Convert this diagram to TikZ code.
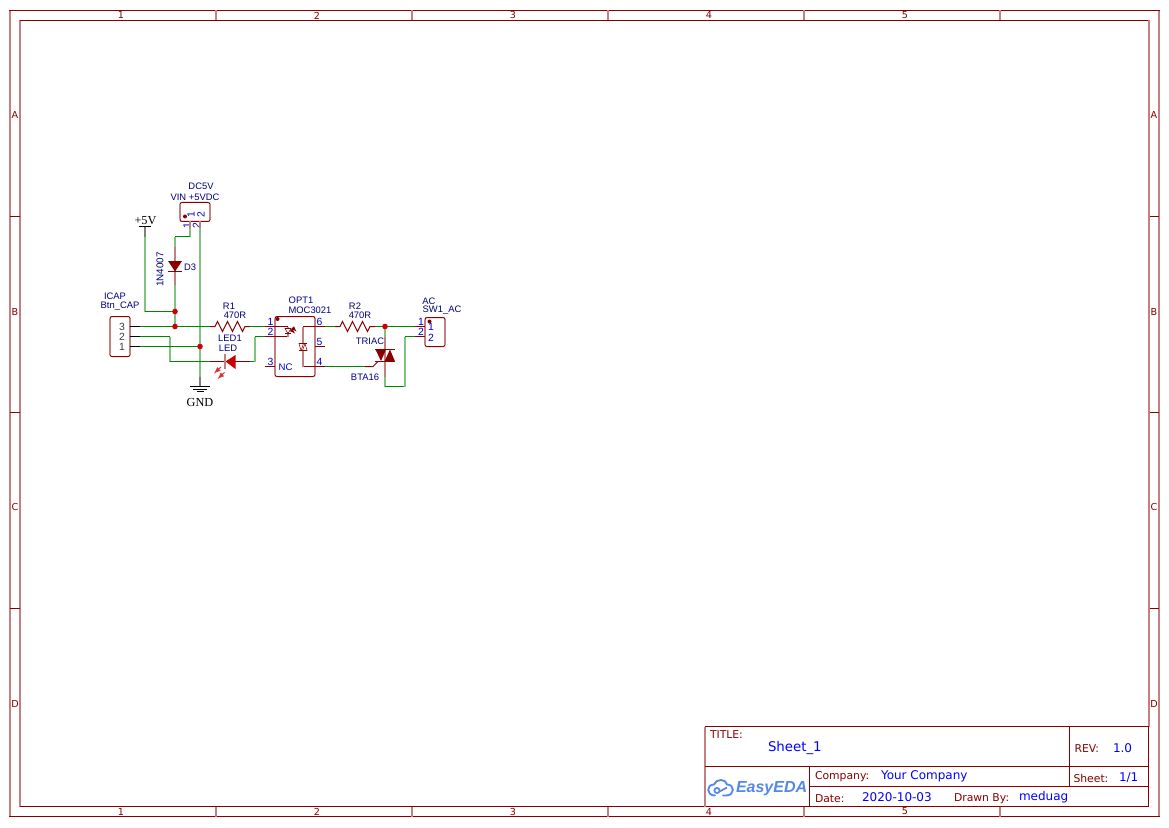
\documentclass[tikz,border=0pt]{standalone}
\usepackage{fontspec}
\setmainfont{DejaVu Sans}
\newfontfamily\lab{Liberation Sans}
\newfontfamily\ser{Liberation Serif}
\definecolor{fr}{HTML}{880000}
\definecolor{wg}{HTML}{008800}
\definecolor{jn}{HTML}{CC0000}
\definecolor{nv}{HTML}{000080}
\definecolor{bl}{HTML}{0000FF}
\definecolor{lg}{HTML}{5588EE}
\tikzset{
 x=0.75pt,y=-0.75pt,
 every node/.style={inner sep=0pt,outer sep=0pt},
 frameline/.style={draw=fr,line width=0.75pt},
 vframe/.style={draw=fr!50!white,line width=1.5pt},
 sym/.style={draw=fr,line width=0.75pt},
 vsym/.style={draw=fr!50!white,line width=1.5pt},
 fine/.style={draw=fr,line width=0.4pt},
 wire/.style={draw=wg,line width=0.75pt},
 vwire/.style={draw=wg!50!white,line width=1.5pt},
 pinline/.style={draw=fr,line width=0.75pt},
 blk/.style={draw=black,line width=0.75pt},
 vblk/.style={draw=black!50!white,line width=1.5pt},
 part/.style={draw=fr,line width=0.75pt,rounded corners=1.5pt},
 fl/.style={text=fr,font=\fontsize{7.2pt}{8pt}\selectfont},
 tk/.style={text=fr,anchor=west,font=\fontsize{8.1pt}{10pt}\selectfont},
 tv/.style={text=bl,anchor=west,font=\fontsize{9pt}{10pt}\selectfont},
 lb/.style={text=nv,font=\lab\fontsize{7.05pt}{8pt}\selectfont},
 pn/.style={text=bl!60!nv,font=\lab\fontsize{7.8pt}{9pt}\selectfont},
 dot/.style={circle,fill=jn,minimum size=4.2pt},
 sdot/.style={circle,fill=fr,minimum size=3pt},
 pw/.style={text=black,font=\ser\fontsize{9.2pt}{10pt}\selectfont},
}
\begin{document}
\begin{tikzpicture}
\useasboundingbox (0,0) rectangle (1169,827);
\fill[white] (0,0) rectangle (1169,827);
\begin{scope}[shift={(0,0.5)}]
% sheet frame
\draw[vframe] (10,10)--(10,816);
\draw[vframe] (1159,10)--(1159,816);
\draw[vframe] (20,20)--(20,806);
\draw[frameline] (9,10)--(1160,10);
\draw[frameline] (9,816)--(1160,816);
\draw[frameline] (20,20)--(1149,20);
\draw[frameline] (20,806)--(1149,806);
\foreach \v in {216,412,608,804,1000}{
 \draw[vframe] (\v,10)--(\v,20);
 \draw[vframe] (\v,806)--(\v,816);}
\foreach \v in {216,412,608}{
 \draw[frameline] (10,\v)--(20,\v);
 \draw[frameline] (1149,\v)--(1159,\v);}
\foreach \t/\v in {1/121,2/317,3/513,4/709,5/905}{
 \node[fl] (t\t) at (\v,15) {\t};
 \node[fl] (b\t) at (\v,811) {\t};}
\foreach \t/\v in {A/115,B/311,C/507,D/703}{
 \node[fl] (l\t) at (15,\v) {\t};
 \node[fl] (r\t) at (1154,\v) {\t};}
% title block
\draw[vframe] (705,726)--(705,806);
\draw[vframe] (1149,20)--(1149,726);
\draw[frameline] (705,726)--(1149,726);
\draw[frameline] (705,766)--(1149,766);
\draw[frameline] (809.5,786)--(1149,786);
\draw[frameline] (809.5,766)--(809.5,806);
\draw[frameline] (1069.5,726)--(1069.5,786);
\draw[frameline] (1148.5,726)--(1148.5,806);
\node[tk] (ttl) at (710,734.5) {TITLE:};
\node[tv,font=\fontsize{10pt}{12pt}\selectfont] (sh) at (768,747) {Sheet\_1};
\node[tk] (rev) at (1074.5,748.5) {REV:};
\node[tv] (revv) at (1113,748) {1.0};
\node[tk] (co) at (815,776.5) {Company:};
\node[tv] (cov) at (881,775.5) {Your Company};
\node[tk] (sht) at (1073.5,777.5) {Sheet:};
\node[tv] (shtv) at (1119,777) {1/1};
\node[tk] (dt) at (815,798) {Date:};
\node[tv] (dtv) at (862,797) {2020-10-03};
\node[tk] (db) at (954,798) {Drawn By:};
\node[tv] (dbv) at (1019,797) {meduag};
% logo
\draw[lg,line width=1.4pt,line cap=round,line join=round]
 (715,795) .. controls (706,795) and (706,784) .. (714,784)
 .. controls (716,778) and (726,778) .. (727,784)
 .. controls (735,784) and (735,795) .. (726,795) -- (723,795);
\draw[lg,line width=1.3pt] (717,790) circle (2.6);
\draw[lg,line width=1.3pt] (719.5,791)--(727,787);
\node[text=lg,anchor=west,font=\lab\bfseries\itshape\fontsize{12pt}{14pt}\selectfont] (logo) at (736,788) {EasyEDA};

% DC5V connector
\draw[part] (180,202) rectangle (210,221);
\draw[vsym] (180,204)--(180,219);
\draw[vsym] (210,204)--(210,219);
\node[sdot] (dcd) at (185,216) {};
\node[pn,rotate=90] (dc1) at (191,214) {1};
\node[pn,rotate=90] (dc2) at (201,214) {2};
\node[pn,rotate=90] (dc1o) at (187,225) {1};
\node[pn,rotate=90] (dc2o) at (196.5,225) {2};
\node[lb] (dcn) at (201,186) {DC5V};
\node[lb] (dcv) at (195,197) {VIN +5VDC};
\coordinate (dcp1) at (190,221);
\coordinate (dcp1w) at (190,227);
\coordinate (dcp2) at (200,221);
\coordinate (dcp2w) at (200,227);
\draw[vsym] (dcp1)--(dcp1w);
\draw[vsym] (dcp2)--(dcp2w);
% +5V
\coordinate (pw5) at (145,226);
\coordinate (pw5w) at (145,236);
\draw[blk] (139,226)--(151,226);
\draw[vblk] (pw5)--(pw5w);
\node[pw] (pw5t) at (145.5,220) {+5V};
% GND
\coordinate (gnd) at (200,386);
\coordinate (gndw) at (200,376);
\draw[vblk] (gndw)--(gnd);
\draw[blk] (190,386)--(210,386);
\draw[blk] (193,388.5)--(207,388.5);
\draw[blk] (196.5,391)--(203.5,391);
\node[pw] (gndt) at (200,401.5) {GND};
% D3
\coordinate (d3a) at (175,246);
\coordinate (d3c) at (175,284);
\draw[vsym] (d3a)--(d3c);
\fill[fr] (168,260.5)--(182,260.5)--(175,271)--cycle;
\draw[sym] (168,271)--(182,271);
\node[lb,rotate=90,font=\lab\fontsize{7.4pt}{8pt}\selectfont] (d3v) at (160,269) {1N4007};
\node[lb,anchor=west] (d3n) at (184,267) {D3};
% ICAP
\draw[part] (110,316) rectangle (130,356);
\draw[vsym] (110,318)--(110,354);
\draw[vsym] (130,318)--(130,354);
\node[lb] (ic) at (115,296) {ICAP};
\node[lb] (icv) at (120,306) {Btn\_CAP};
\foreach \t/\v in {3/326,2/336,1/346}{
 \coordinate (ic\t) at (130,\v);
 \coordinate (ic\t w) at (140,\v);
 \draw[blk] (ic\t)--(ic\t w);
 \node[text=black!75,font=\lab\fontsize{7.8pt}{9pt}\selectfont] (icn\t) at (122,\v) {\t};}
% R1
\coordinate (r1a) at (210,326);
\coordinate (r1b) at (250,326);
\draw[sym] (r1a)--(215,326)--(217.5,321)--(222.5,331)--(227.5,321)--(232.5,331)--(237.5,321)--(242.5,331)--(245,326)--(r1b);
\node[lb] (r1n) at (229,306) {R1};
\node[lb] (r1v) at (235,315) {470R};
% LED1
\coordinate (lda) at (210,361);
\coordinate (ldb) at (250,361);
\draw[sym] (lda)--(ldb);
\fill[jn] (225.5,361)--(235.5,354.5)--(235.5,368.5)--cycle;
\draw[vsym] (225,353)--(225,368.5);
\draw[jn!80!white,line width=0.75pt,-latex] (224.5,372)--(217.5,378.5);
\draw[jn!80!white,line width=0.75pt,-latex] (221,366.5)--(214,373);
\node[lb] (l1n) at (230,338) {LED1};
\node[lb] (l1v) at (228,347.5) {LED};
% OPT1
\draw[part] (275,316) rectangle (315,376);
\draw[vsym] (275,318)--(275,374);
\draw[vsym] (315,318)--(315,374);
\node[sdot] (opd) at (277.5,318.5) {};
\node[lb] (opn) at (301,300) {OPT1};
\node[lb] (opv) at (310,310) {MOC3021};
\node[pn,font=\lab\fontsize{7.2pt}{8pt}\selectfont] (opnc) at (285.5,367) {NC};
\foreach \t/\v in {1/326,2/336,3/366}{
 \coordinate (op\t) at (265,\v);
 \coordinate (op\t i) at (275,\v);
 \draw[pinline] (op\t)--(op\t i);
 \node[pn] (opl\t) at (270.5,\v-4.5) {\t};}
\foreach \t/\v in {6/326,5/346,4/366}{
 \coordinate (op\t) at (325,\v);
 \coordinate (op\t i) at (315,\v);
 \draw[pinline] (op\t i)--(op\t);
 \node[pn] (opl\t) at (319.5,\v-4.5) {\t};}
\draw[sym] (op1i)--(288,326);
\draw[sym] (288,336)--(op2i);
\draw[vsym] (288,326)--(288,336);
\fill[white] (285,328)--(291,328)--(288,333)--cycle;
\draw[fine] (285,328)--(291,328)--(288,333)--cycle;
\draw[fine] (285,333)--(291,333);
\draw[fine,-latex] (291,329)--(295,333);
\draw[fine,-latex] (292.5,327)--(296.5,331);
\draw[sym] (op6i)--(303,326);
\draw[sym] (303,366)--(op4i);
\draw[vsym] (303,326)--(303,366);
\fill[white] (299,343) rectangle (307,350);
\draw[fine] (299,343)--(307,343);
\draw[fine] (299,350)--(307,350);
\draw[fine] (299,343)--(303.5,343)--(301,350)--cycle;
\draw[fine] (302.5,350)--(307,350)--(305,343)--cycle;
% R2
\coordinate (r2a) at (335,326);
\coordinate (r2b) at (375,326);
\draw[sym] (r2a)--(340,326)--(342.5,321)--(347.5,331)--(352.5,321)--(357.5,331)--(362.5,321)--(367.5,331)--(370,326)--(r2b);
\node[lb] (r2n) at (355,306) {R2};
\node[lb] (r2v) at (360,315) {470R};
% triac
\coordinate (tra) at (385,336);
\coordinate (trb) at (385,376);
\coordinate (trg) at (365,366);
\draw[vsym] (tra)--(trb);
\fill[fr] (375.5,349)--(386,349)--(381,360.5)--cycle;
\fill[fr] (384.5,361)--(395,361)--(390,349)--cycle;
\draw[sym] (375,349)--(395,349);
\draw[sym] (375,361)--(395,361);
\draw[sym] (trg)--(373,366)--(378,361);
\node[lb] (trn) at (370,341) {TRIAC};
\node[lb] (trv) at (365,377) {BTA16};
% SW1_AC
\draw[part] (425,317) rectangle (445,346);
\draw[vsym] (425,319)--(425,344);
\draw[vsym] (445,319)--(445,344);
\node[sdot] (swd) at (429.5,321) {};
\node[lb] (swn) at (429,301) {AC};
\node[lb] (swv) at (442,310) {SW1\_AC};
\coordinate (sw1) at (415,326);
\coordinate (sw2) at (415,336);
\draw[pinline] (sw1)--(425,326);
\draw[pinline] (sw2)--(425,336);
\node[pn] (swo1) at (421,321.5) {1};
\node[pn] (swo2) at (421,331.5) {2};
\node[pn] (swi1) at (431,326) {1};
\node[pn] (swi2) at (431,337) {2};
% junctions
\coordinate (j1) at (175,311);
\coordinate (j2) at (175,326);
\coordinate (j3) at (200,346);
\coordinate (j4) at (385,326);
% wires
\coordinate (w1) at (190,236);
\coordinate (w2) at (175,236);
\coordinate (w3) at (145,311);
\coordinate (w4) at (170,336);
\coordinate (w5) at (170,361);
\coordinate (w6) at (255,361);
\coordinate (w7) at (255,336);
\coordinate (w8) at (385,386);
\coordinate (w9) at (405,386);
\coordinate (w10) at (405,336);
\draw[vwire] (dcp1w)--(w1);
\draw[wire] (w1)--(w2);
\draw[vwire] (w2)--(d3a);
\draw[vwire] (dcp2w)--(gndw);
\draw[vwire] (d3c)--(j2);
\draw[vwire] (pw5w)--(w3);
\draw[wire] (w3)--(j1);
\draw[wire] (ic3w)--(r1a);
\draw[wire] (ic2w)--(w4);
\draw[vwire] (w4)--(w5);
\draw[wire] (w5)--(lda);
\draw[wire] (ic1w)--(j3);
\draw[wire] (r1b)--(op1);
\draw[wire] (ldb)--(w6);
\draw[vwire] (w6)--(w7);
\draw[wire] (w7)--(op2);
\draw[wire] (op6)--(r2a);
\draw[wire] (r2b)--(sw1);
\draw[vwire] (j4)--(tra);
\draw[wire] (op4)--(trg);
\draw[vwire] (trb)--(w8);
\draw[wire] (w8)--(w9);
\draw[vwire] (w9)--(w10);
\draw[wire] (w10)--(sw2);
\foreach \j in {j1,j2,j3,j4}{\node[dot] (n\j) at (\j) {};}
\end{scope}
\end{tikzpicture}
\end{document}
